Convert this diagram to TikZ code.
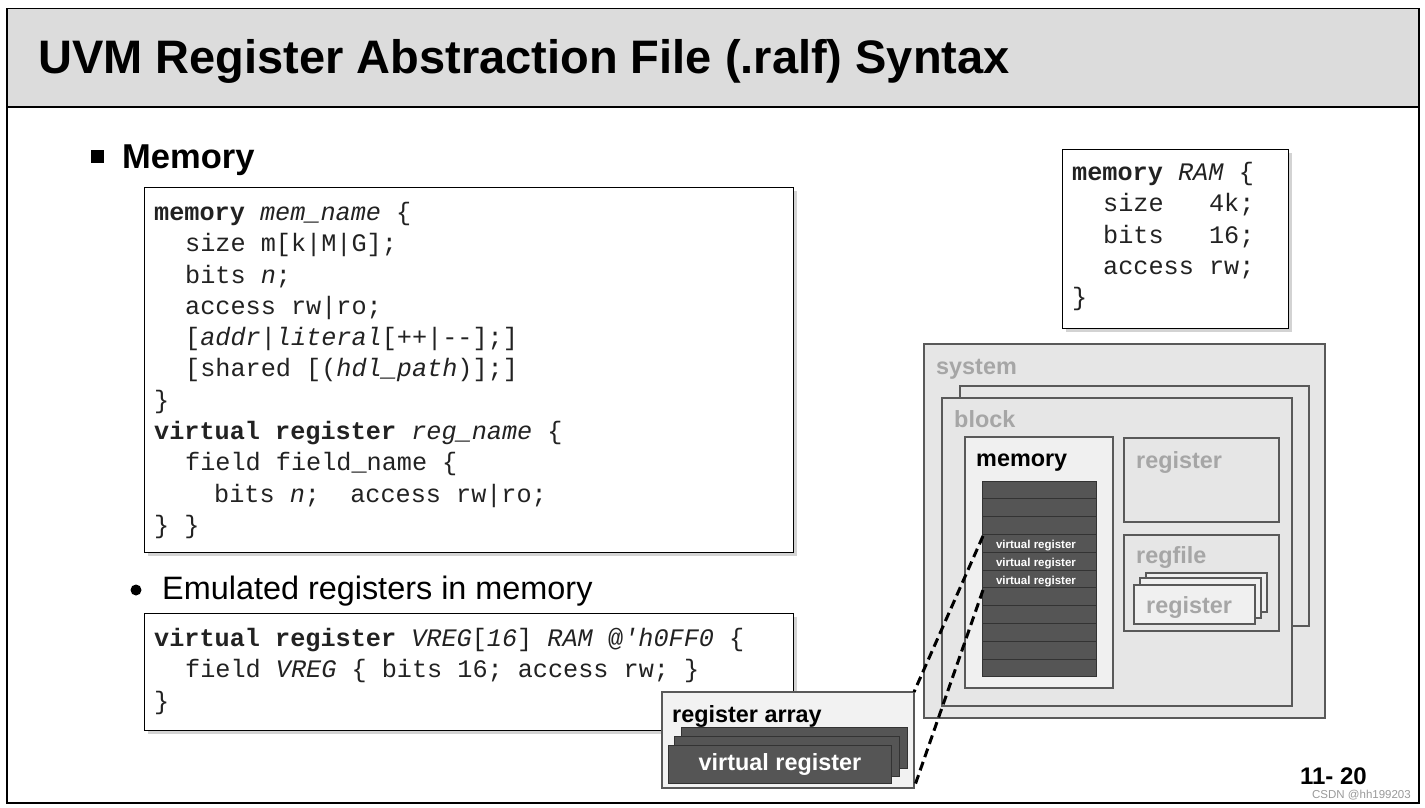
\documentclass[tikz,border=0pt]{standalone}
\usepackage{fontspec}
\setmainfont{Liberation Sans}
\setmonofont{Liberation Mono}
\usetikzlibrary{shadows}
\definecolor{titlebg}{HTML}{DCDCDC}
\definecolor{boxbg}{HTML}{E6E6E6}
\definecolor{lbl}{HTML}{A6A6A6}
\definecolor{darkreg}{HTML}{555555}
\definecolor{codec}{HTML}{222222}
\tikzset{
  codebox/.style={draw=black,line width=1pt,fill=white,drop shadow={shadow xshift=3pt,shadow yshift=-3pt,opacity=.35}},
  code/.style={anchor=north west,inner sep=0pt,align=left,text=codec,font=\fontsize{25.2}{31.3}\selectfont\ttfamily},
  bev/.style={fill=boxbg,draw=gray!70!black,line width=1.6pt},
  bevl/.style={fill=gray!12,draw=gray!70!black,line width=1.6pt},
  lab/.style={anchor=base west,inner sep=0pt,text=lbl,font=\fontsize{23.4}{25}\selectfont\bfseries},
  dreg/.style={fill=darkreg,draw=black!80,line width=1pt},
  vr/.style={anchor=center,inner sep=0pt,text=white,font=\fontsize{11.5}{12}\selectfont\bfseries},
  dsh/.style={line width=3pt,dash pattern=on 9pt off 5pt}
}
\newcommand{\ind}{\hspace*{31pt}}
\begin{document}
\begin{tikzpicture}[x=1pt,y=-1pt]
\useasboundingbox (0,0) rectangle (1425,808);
\node[draw=black,line width=1.5pt,minimum width=1412pt,minimum height=794pt,anchor=north west,inner sep=0pt] (frame) at (6,8) {};
\node[draw=black,line width=1.5pt,fill=titlebg,minimum width=1412pt,minimum height=98pt,anchor=north west,inner sep=0pt] (titlebar) at (6,8) {};
\node[anchor=base west,inner sep=0pt,font=\fontsize{47}{50}\selectfont\bfseries] (title) at (38,74) {UVM Register Abstraction File (.ralf) Syntax};
% bullet Memory
\node[fill=black,minimum size=13pt,inner sep=0pt] (sq) at (97,156) {};
\node[anchor=base west,inner sep=0pt,font=\fontsize{34.5}{37}\selectfont\bfseries] (mem) at (122,168) {Memory};
% code box 1
\node[codebox,minimum width=649pt,minimum height=365pt,anchor=north west,inner sep=0pt] (cb1) at (144,187) {};
\node[code] (c1) at (154,202) {\textbf{memory} \textit{mem\_name} \{\\
\ind size m[k|M|G];\\
\ind bits \textit{n};\\
\ind access rw|ro;\\
\ind [\textit{addr}|\textit{literal}[++|--{}];]\\
\ind [shared [(\textit{hdl\_path})];]\\
\}\\
\textbf{virtual register} \textit{reg\_name} \{\\
\ind field field\_name \{\\
\ind\hspace*{29pt}bits \textit{n};\ \ access rw|ro;\\
\} \}};
% Emulated
\node[circle,fill=black,minimum size=11pt,inner sep=0pt] (dot) at (136,590) {};
\node[anchor=base west,inner sep=0pt,font=\fontsize{32.4}{35}\selectfont] (emu) at (162,599) {Emulated registers in memory};
% code box 2
\node[codebox,minimum width=649pt,minimum height=117pt,anchor=north west,inner sep=0pt] (cb2) at (144,613) {};
\node[code] (c2) at (154,628) {\textbf{virtual register} \textit{VREG}[\textit{16}] \textit{RAM} @\textit{'h0FF0} \{\\
\ind field \textit{VREG} \{ bits 16; access rw; \}\\
\}};
% code box 3
\node[codebox,minimum width=226pt,minimum height=179pt,anchor=north west,inner sep=0pt] (cb3) at (1062,149) {};
\node[code] (c3) at (1072,162) {\textbf{memory} \textit{RAM} \{\\
\ind size\ \ \ 4k;\\
\ind bits\ \ \ 16;\\
\ind access rw;\\
\}};
% system diagram
\draw[bev] (924,344) rectangle (1325,718);
\node[lab] (sys) at (936,374) {system};
\draw[bev] (960,386) rectangle (1309,626);
\draw[bev] (942,398) rectangle (1292,706);
\node[lab] (blk) at (954,427) {block};
\draw[bevl] (965,437) rectangle (1113,688);
\node[lab,text=black] (memlab) at (976,466) {memory};
\draw[bev] (1124,438) rectangle (1279,522);
\node[lab] (reg1) at (1136,468) {register};
\draw[bev] (1124,535) rectangle (1279,631);
\node[lab] (rf) at (1136,563) {regfile};
\draw[bevl] (1146,573) rectangle (1267,612);
\draw[bevl] (1140,578) rectangle (1261,618);
\draw[bevl] (1134,585) rectangle (1255,624);
\node[lab] (reg2) at (1146,613) {register};
% memory column
\foreach \i in {0,...,10}{
  \draw[dreg] (982,{481+\i*17.8}) rectangle (1096,{481+(\i+1)*17.8});
}
\node[vr] (v1) at (1036,545.6) {virtual register};
\node[vr] (v2) at (1036,563.4) {virtual register};
\node[vr] (v3) at (1036,581.2) {virtual register};
\coordinate (mt) at (983,536);
\coordinate (mb) at (983,590);
% register array
\draw[bevl,fill=gray!10] (662,692) rectangle (914,788);
\node[anchor=base west,inner sep=0pt,font=\fontsize{23.4}{25}\selectfont\bfseries] (ra) at (672,722) {register array};
\draw[dreg] (681,727) rectangle (907,768);
\draw[dreg] (674,736) rectangle (899,776);
\draw[dreg] (668,745) rectangle (891,783);
\node[anchor=center,inner sep=0pt,text=white,font=\fontsize{23.4}{25}\selectfont\bfseries] (vreg) at (780,764) {virtual register};
\coordinate (rt) at (914,692);
\coordinate (rb) at (914,788);
\draw[dsh] (mt) -- (rt);
\draw[dsh] (mb) -- (rb);
% footer
\node[anchor=base east,inner sep=0pt,font=\fontsize{24}{26}\selectfont\bfseries] (pg) at (1367,784) {11- 20};
\node[anchor=base east,inner sep=0pt,text=gray!80,font=\fontsize{11.5}{12}\selectfont] (csdn) at (1411,798) {CSDN @hh199203};
\end{tikzpicture}
\end{document}
